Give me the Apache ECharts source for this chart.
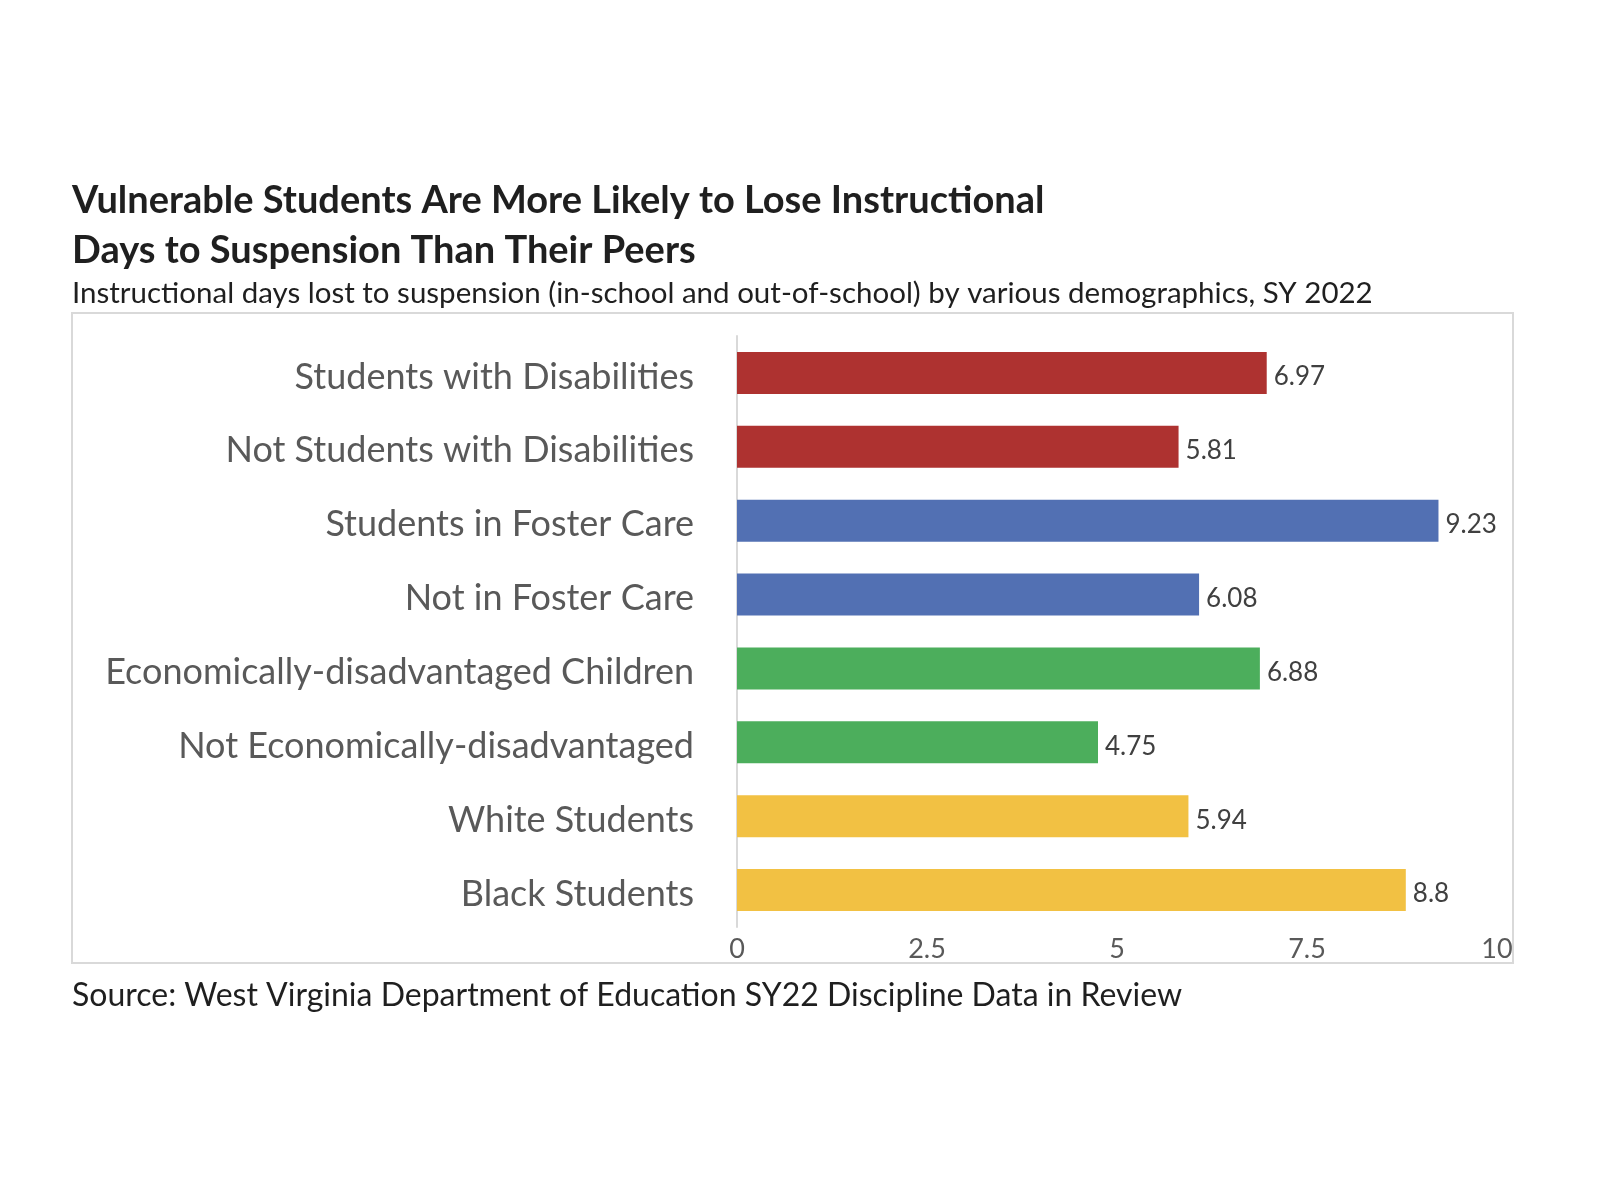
<!DOCTYPE html>
<html>
<head>
<meta charset="utf-8">
<script src="https://cdn.jsdelivr.net/npm/echarts@6/dist/echarts.min.js"></script>
<style>
  html, body { margin: 0; padding: 0; background: #ffffff; }
  #chart { width: 1600px; height: 1200px; }
</style>
</head>
<body>
<div id="chart"></div>
<script>
const categories = [
  "Students with Disabilities",
  "Not Students with Disabilities",
  "Students in Foster Care",
  "Not in Foster Care",
  "Economically-disadvantaged Children",
  "Not Economically-disadvantaged",
  "White Students",
  "Black Students"
];
const values = [6.97, 5.81, 9.23, 6.08, 6.88, 4.75, 5.94, 8.8];
const barColors = ["#AE3230", "#AE3230", "#5270B3", "#5270B3", "#4CAE5C", "#4CAE5C", "#F2C143", "#F2C143"];
const xTicks = [0, 2.5, 5, 7.5, 10];

const titleText = "Vulnerable Students Are More Likely to Lose Instructional\nDays to Suspension Than Their Peers";
const subtitleText = "Instructional days lost to suspension (in-school and out-of-school) by various demographics, SY 2022";
const sourceText = "Source: West Virginia Department of Education SY22 Discipline Data in Review";

const FONT = "Lato";
const chart = echarts.init(document.getElementById('chart'), null, { renderer: 'canvas' });

chart.setOption({
  backgroundColor: '#ffffff',
  animation: false,
  title: [
    {
      text: titleText,
      left: 67, top: 171,
      textStyle: { fontFamily: FONT, fontWeight: 'bold', fontSize: 38, color: '#1f1f1f', lineHeight: 50 }
    },
    {
      text: subtitleText,
      left: 67, top: 273,
      textStyle: { fontFamily: FONT, fontWeight: 'normal', fontSize: 29.5, color: '#1f1f1f' }
    },
    {
      text: sourceText,
      left: 67, top: 975,
      textStyle: { fontFamily: FONT, fontWeight: 'normal', fontSize: 32, color: '#1f1f1f' }
    }
  ],
  graphic: [
    {
      type: 'rect',
      shape: { x: 72, y: 313, width: 1441, height: 650 },
      style: { fill: 'none', stroke: '#D9D9D9', lineWidth: 2 },
      z: -1
    }
  ],
  grid: { left: 737, right: 103, top: 336, bottom: 273, containLabel: false },
  xAxis: {
    type: 'value',
    min: 0, max: 10, interval: 2.5,
    axisLine: { show: false },
    axisTick: { show: false },
    splitLine: { show: false },
    axisLabel: {
      fontFamily: FONT, fontSize: 27, color: '#595959', margin: 9,
      formatter: function (v) { return xTicks.indexOf(v) >= 0 ? String(v) : ''; }
    }
  },
  yAxis: {
    type: 'category',
    data: categories,
    inverse: true,
    axisLine: { show: true, lineStyle: { color: '#D9D9D9', width: 2 } },
    axisTick: { show: false },
    axisLabel: {
      fontFamily: FONT, fontSize: 36, color: '#595959', margin: 43,
      formatter: function (v) { return '{a|' + v + '}'; },
      rich: { a: { fontFamily: FONT, fontSize: 36, color: '#595959', padding: [8, 0, 0, 0] } }
    }
  },
  series: [{
    type: 'bar',
    data: values.map((v, i) => ({ value: v, itemStyle: { color: barColors[i] } })),
    barWidth: 42,
    label: {
      show: true, position: 'right', distance: 7, offset: [0, 4],
      fontFamily: FONT, fontSize: 26, color: '#404040'
    }
  }]
});
</script>
</body>
</html>
